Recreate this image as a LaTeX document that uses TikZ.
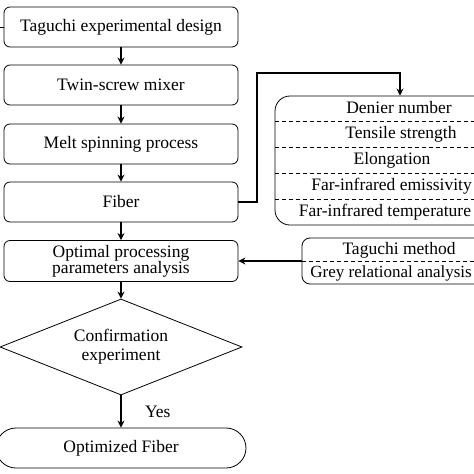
\documentclass[tikz,border=0pt]{standalone}
\usepackage{fontspec}
\setmainfont{Liberation Serif}
\usetikzlibrary{shapes.geometric, positioning, arrows.meta}

\tikzset{
  stepbox/.style={draw, line width=0.8pt, rounded corners=6pt, minimum width=234pt,
    minimum height=40pt, align=center, font=\fontsize{17.5}{19}\selectfont},
  rowtext/.style={font=\fontsize{17.5}{19}\selectfont, inner sep=0pt},
  flow/.style={->, line width=1.5pt},
  sep/.style={dashed, line width=0.8pt, dash pattern=on 4pt off 3pt}
}

\begin{document}
\begin{tikzpicture}[x=1pt, y=-1pt, >={Stealth[length=7pt,width=7pt]}]
  \useasboundingbox (0,0) rectangle (474,474);
  % main column
  \node[stepbox] (design) at (121,27) {Taguchi experimental design};
  \node[stepbox] (mixer) at (121,85) {Twin-screw mixer};
  \node[stepbox] (spinning) at (121,144) {Melt spinning process};
  \node[stepbox] (fiber) at (121,202) {Fiber};
  \node[stepbox, minimum height=41pt] (optimal) at (121,261) {Optimal processing\\[-3pt]parameters analysis};
  \node[diamond, draw, line width=0.8pt, aspect=2.52, minimum width=242pt, minimum height=96pt, inner sep=0pt,
    align=center, font=\fontsize{17.5}{19}\selectfont] (confirm) at (121,347) {Confirmation\\experiment};
  \node[stepbox, rounded corners=20pt, minimum width=250pt] (optimized) at (121,448) {Optimized Fiber};

  \draw[flow] (design) -- (mixer);
  \draw[flow] (mixer) -- (spinning);
  \draw[flow] (spinning) -- (fiber);
  \draw[flow] (fiber) -- (optimal);
  \draw[flow] (optimal) -- (confirm);
  \draw[flow] (confirm) -- (optimized) node[midway, right, xshift=20pt, font=\fontsize{17.5}{19}\selectfont] {Yes};
  \coordinate (loopin) at (0,27);
  \draw[line width=0.8pt] (loopin) -- (design.west);

  % measured properties
  \node[draw, line width=0.8pt, rounded corners=15pt, minimum width=225pt, minimum height=129pt] (props) at (387.5,160.5) {};
  \node[rowtext] (denier) at (399,108) {Denier number};
  \node[rowtext] (tensile) at (401,134) {Tensile strength};
  \node[rowtext] (elong) at (392,160) {Elongation};
  \node[rowtext, anchor=east] (emiss) at (472,186) {Far-infrared emissivity};
  \node[rowtext] (temp) at (385,212) {Far-infrared temperature};
  \foreach \y in {121,147,173,199}
    \draw[sep] (props.west |- 0,\y) -- (props.east |- 0,\y);
  \coordinate (turn) at (400,73);
  \draw[flow] (fiber.east) -| (257,73) -- (turn) -- (turn |- props.north);

  % analysis methods
  \node[draw, line width=0.8pt, rounded corners=8pt, minimum width=194pt, minimum height=46pt] (methods) at (399,261) {};
  \node[rowtext] (taguchi) at (399,250) {Taguchi method};
  \node[rowtext, anchor=east, font=\fontsize{17}{19}\selectfont] (grey) at (472,273) {Grey relational analysis};
  \draw[sep] (methods.west) -- (methods.east);
  \draw[flow] (methods.west) -- (optimal.east);
\end{tikzpicture}
\end{document}
